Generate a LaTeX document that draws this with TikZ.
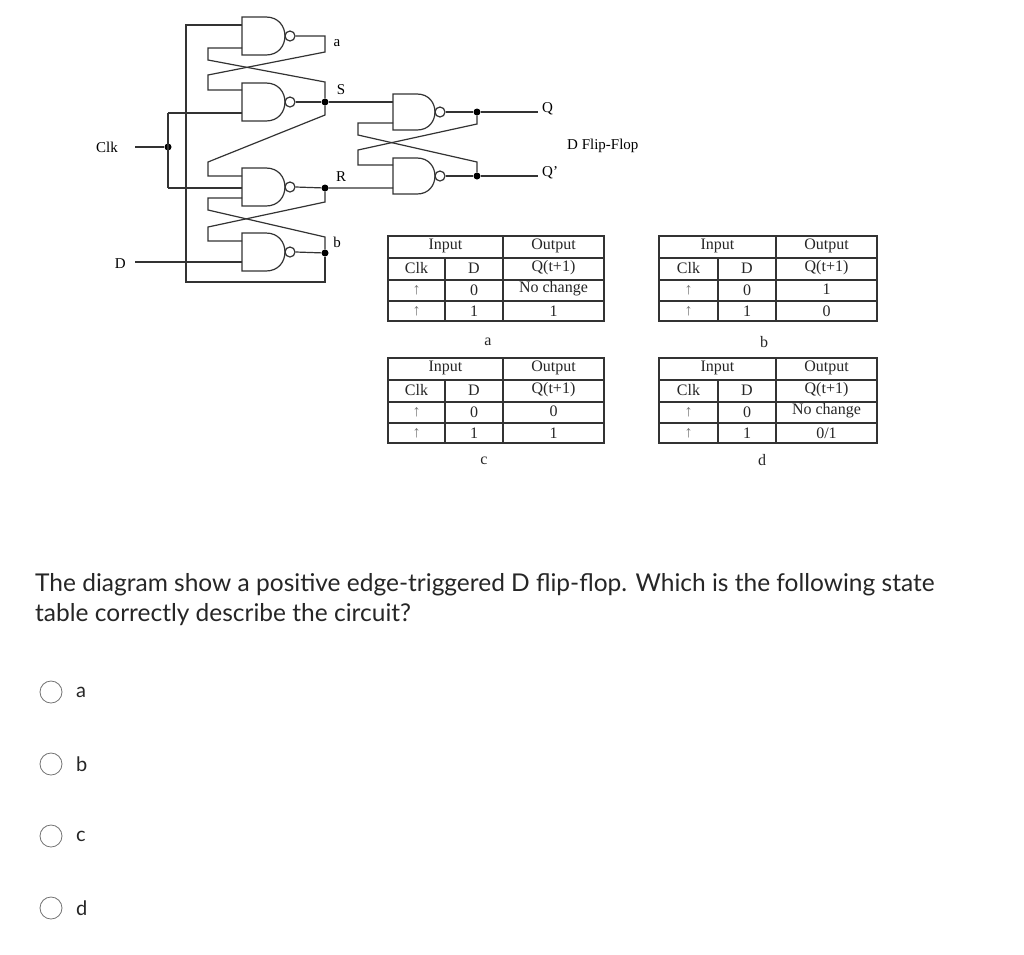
\documentclass[tikz,border=0pt]{standalone}
\usepackage{fontspec}
\setmainfont{Liberation Serif}
\newfontfamily\qfont{Lato}
\tikzset{
  w/.style={line width=1.2pt, black!80},
  dotc/.style={circle, fill=black, inner sep=0pt, minimum size=7pt},
  lbl/.style={font=\fontsize{15}{15}\selectfont, inner sep=0pt},
  tb/.style={line width=1.2pt, black!80},
  tt/.style={font=\fontsize{16}{16}\selectfont, inner sep=0pt, text=black!85},
  qt/.style={font=\qfont\fontsize{24.5}{30}\selectfont, text=black!85, inner sep=0pt, anchor=west},
  radio/.style={circle, draw=black!55, line width=0.8pt, minimum size=22pt, inner sep=0pt}
}
% gate: name, x, ytop, h
\newcommand\mynand[4]{%
  \pgfmathsetmacro\rr{#4/2}
  \draw[w] (#2+24,#3) -- (#2,#3) -- (#2,#3+#4) -- (#2+24,#3+#4)
    .. controls (#2+24+1.33*\rr,#3+#4) and (#2+24+1.33*\rr,#3) .. (#2+24,#3);
  \node[circle, draw=black!80, line width=1.2pt, minimum size=10pt, inner sep=0pt] (#1) at (#2+24+\rr+5,#3+\rr) {};
}
\newcommand\mytab[8]{%
  \coordinate (#1) at (#2,#6);
  \draw[tb] (#2,#6) rectangle (#5,#6+85);
  \foreach \yy in {22,44,65} \draw[tb] (#2,#6+\yy) -- (#5,#6+\yy);
  \draw[tb] (#3,#6+22) -- (#3,#6+85);
  \draw[tb] (#4,#6) -- (#4,#6+85);
  \node[tt] at ({(#2+#4)/2},#6+10) {Input};
  \node[tt] at ({(#4+#5)/2},#6+10) {Output};
  \node[tt] at ({(#2+#3)/2},#6+32) {Clk};
  \node[tt] at ({(#3+#4)/2},#6+32) {D};
  \node[tt] at ({(#4+#5)/2},#6+32) {Q(t+1)};
  \node[tt, text=black!55] at ({(#2+#3)/2},#6+54) {↑};
  \node[tt, text=black!55] at ({(#2+#3)/2},#6+75) {↑};
  \node[tt] at ({(#3+#4)/2},#6+54) {0};
  \node[tt] at ({(#3+#4)/2},#6+75) {1};
  \node[tt] at ({(#4+#5)/2},#6+53) {#7};
  \node[tt] at ({(#4+#5)/2},#6+75) {#8};
}
\begin{document}
\begin{tikzpicture}[x=1pt,y=-1pt]
\useasboundingbox[fill=white] (0,0) rectangle (1024,954);
\mynand{g1}{242}{17}{38}
\mynand{g2}{242}{83}{38}
\mynand{g3}{242}{168}{38}
\mynand{g4}{242}{233}{38}
\mynand{g5}{393}{94}{36}
\mynand{g6}{393}{158}{36}
\node[dotc] (clkd) at (168,147) {};
\node[dotc] (sd) at (325,102) {};
\node[dotc] (rd) at (325,188) {};
\node[dotc] (bd) at (325,253) {};
\node[dotc] (qd) at (477,112) {};
\node[dotc] (qbd) at (477,176) {};
\node[lbl, anchor=east] (clk) at (118,147) {Clk};
\node[lbl, anchor=east] (dl) at (126,264) {D};
\coordinate (dstart) at (135,262);
\coordinate (clkstart) at (135,147);
\draw[w] (clkstart) -- (clkd);
\draw[w] (168,113) -- (168,188);
\draw[w] (168,113) -- (242,113);
\draw[w] (168,188) -- (242,188);
\draw[w] (242,25) -- (186,25) -- (186,282) -- (325,282) -- (bd);
\draw[w] (g1.east) -- (325,36) -- (325,52) -- (208,75) -- (208,90) -- (242,90);
\draw[w] (242,48) -- (208,48) -- (208,60) -- (325,82) -- (sd);
\draw[w] (g2.east) -- (sd) -- (393,102);
\draw[w] (sd) -- (325,115) -- (208,162) -- (208,176) -- (242,176);
\draw[w] (g3.east) -- (rd) -- (393,188);
\draw[w] (rd) -- (325,202) -- (208,227) -- (208,241) -- (242,241);
\draw[w] (g4.east) -- (bd);
\draw[w] (bd) -- (325,237) -- (208,210) -- (208,198) -- (242,198);
\draw[w] (dstart) -- (242,262);
\draw[w] (g5.east) -- (qd) -- (538,112);
\draw[w] (qd) -- (477,124) -- (358,150) -- (358,165) -- (393,165);
\draw[w] (393,123) -- (358,123) -- (358,135) -- (477,162) -- (qbd);
\draw[w] (g6.east) -- (qbd) -- (538,176);
\node[lbl] at (337,43) {a};
\node[lbl] at (341,90) {S};
\node[lbl] at (341,177) {R};
\node[lbl] at (337,242) {b};
\node[lbl, anchor=west] at (542,109) {Q};
\node[lbl, anchor=west] at (542,173) {Q’};
\node[lbl, anchor=west] at (567,146) {D Flip-Flop};
\mytab{ta}{388}{445}{503}{604}{236}{No change}{1}
\mytab{tb}{659}{718}{776}{877}{236}{1}{0}
\mytab{tc}{388}{445}{503}{604}{358}{0}{1}
\mytab{td}{659}{718}{776}{877}{358}{No change}{0/1}
\node[tt] at (488,342) {a};
\node[tt] at (764,342) {b};
\node[tt] at (484,461) {c};
\node[tt] at (762,460) {d};
\node[qt] at (35,585) {The diagram show a positive edge-triggered D flip-flop. Which is the following state};
\node[qt] at (35,615) {table correctly describe the circuit?};
\foreach \l/\yy in {a/692,b/764,c/836,d/908}{
  \node[radio] (r\l) at (51,\yy) {};
  \node[qt, font=\qfont\fontsize{20}{20}\selectfont] at (76,\yy) {\l};
}
\end{tikzpicture}
\end{document}
